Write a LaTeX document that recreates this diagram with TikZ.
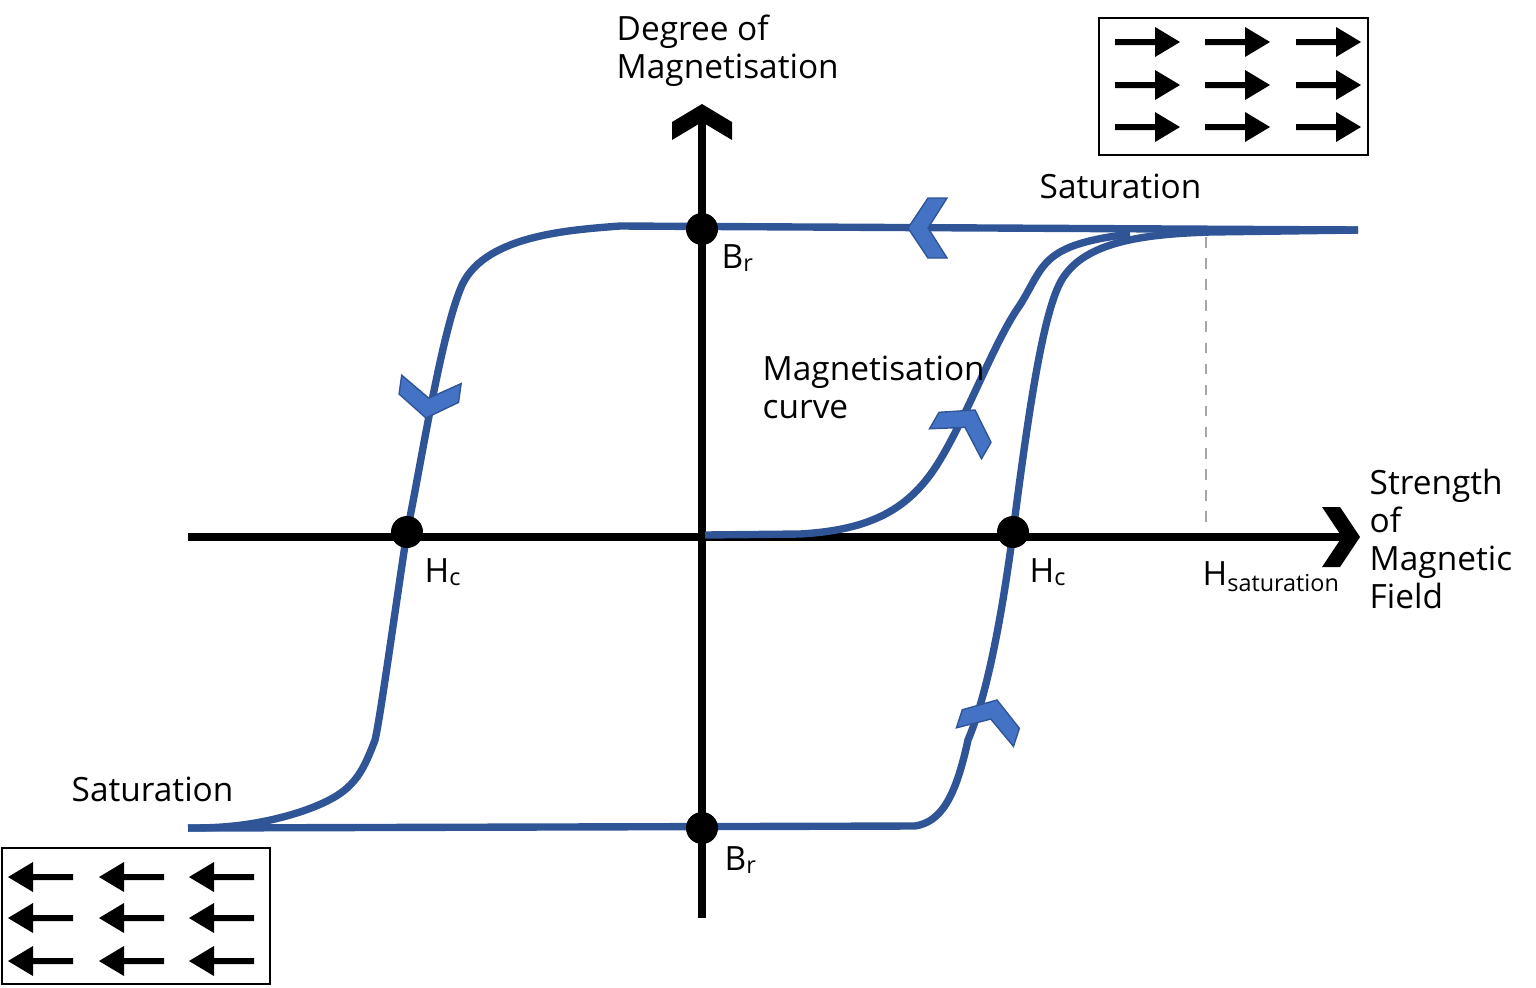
\documentclass[tikz,border=0pt]{standalone}
\usepackage{fontspec}
\setmainfont{Open Sans}
\begin{document}
\begin{tikzpicture}[x=0.01cm,y=-0.01cm,
  curve/.style={draw=curveblue,line width=2.1pt,line join=round},
  axis/.style={line width=2.1pt,black},
  dot/.style={circle,fill=black,inner sep=0pt,minimum size=0.32cm},
  lbl/.style={font=\fontsize{9.5pt}{10.8pt}\selectfont,inner sep=0pt,align=left},
  chev/.pic={\fill[chevfill,draw=curveblue,line width=0.4pt] (0,0)--(-20,-30)--(-39,-30)--(-20,0)--(-39,30)--(-20,30)--cycle;},
  bar/.pic={\fill (0,-3)--(40,-3)--(40,-15)--(65,0)--(40,15)--(40,3)--(0,3)--cycle;}
]
\definecolor{curveblue}{HTML}{2F5597}
\definecolor{chevfill}{HTML}{4472C4}
\useasboundingbox (0,0) rectangle (1536,987);
% axes
\draw[axis] (188,537) -- (1345,537);
\fill (1322,507)--(1340,507)--(1360,537)--(1340,567)--(1322,567)--(1342,537)--cycle;
\draw[axis] (702,918) -- (702,120);
\fill (672,140)--(672,122)--(702,104)--(732,122)--(732,140)--(702,122)--cycle;
% dashed
\draw[gray!70,dashed,line width=0.5pt] (1206,237) -- (1206,530);
% curves
\draw[curve] (1358,230) -- (620,226) .. controls (570,230) and (480,235) .. (460,290)
  .. controls (440,340) and (420,470) .. (407,532)
  .. controls (395,610) and (380,720) .. (375,740)
  .. controls (360,780) and (350,795) .. (300,812)
  .. controls (250,828) and (210,828) .. (188,828);
\draw[curve] (188,828) -- (915,826) .. controls (940,822) and (955,800) .. (968,740)
  .. controls (985,700) and (1000,630) .. (1013,532)
  .. controls (1030,400) and (1045,300) .. (1065,275)
  .. controls (1090,240) and (1150,234) .. (1210,232) -- (1358,230);
\draw[curve] (705,535) -- (800,534) .. controls (870,530) and (910,510) .. (940,460)
  .. controls (970,410) and (995,340) .. (1020,305)
  .. controls (1045,265) and (1040,245) .. (1130,234);
% chevrons
\pic at (908,228) [rotate=180] {chev};
\pic at (426,418) [rotate=-98] {chev};
\pic at (975,410) [rotate=60] {chev};
\pic at (997,700) [rotate=72] {chev};
% dots
\node[dot] (br1) at (702,229) {};
\node[dot] (br2) at (702,828) {};
\node[dot] (hc1) at (407,532) {};
\node[dot] (hc2) at (1013,532) {};
% labels
\node[lbl,anchor=north west] at (616,14) {Degree of\\Magnetisation};
\node[lbl,anchor=west] at (1039,186) {Saturation};
\node[lbl,anchor=west] at (71,789) {Saturation};
\node[lbl,anchor=west] at (721,258) {B\textsubscript{r}};
\node[lbl,anchor=west] at (724,860) {B\textsubscript{r}};
\node[lbl,anchor=west] at (424,572) {H\textsubscript{c}};
\node[lbl,anchor=west] at (1029,572) {H\textsubscript{c}};
\node[lbl,anchor=west] at (1202,577) {H\textsubscript{saturation}};
\node[lbl,anchor=north west] at (762,355) {Magnetisation\\curve};
\node[lbl,anchor=north west] at (1369,468) {Strength\\of\\Magnetic\\Field};
% boxes
\draw[line width=0.6pt] (1099,18) rectangle (1368,155);
\foreach \y in {42,85,127} \foreach \x in {1115,1205,1296} \pic at (\x,\y) {bar};
\draw[line width=0.6pt] (2,848) rectangle (270,984);
\foreach \y in {877,918,961} \foreach \x in {73,164,254} \pic at (\x,\y) [rotate=180] {bar};
\end{tikzpicture}
\end{document}
